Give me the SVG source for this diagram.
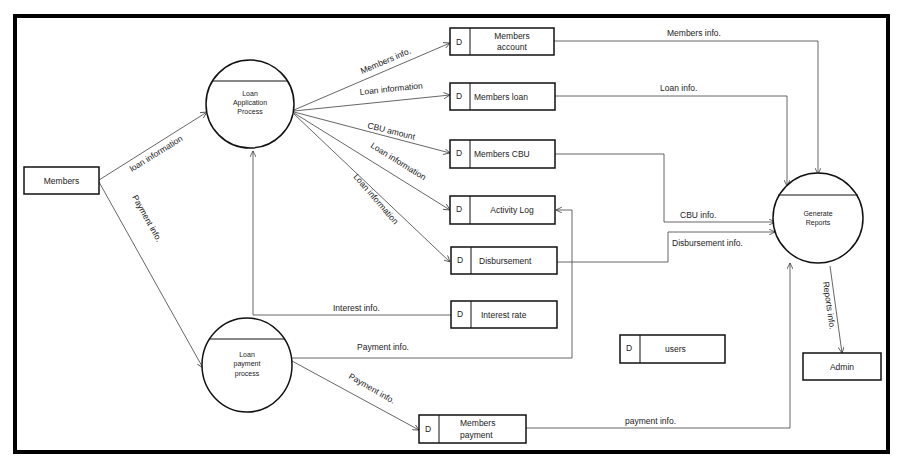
<svg xmlns="http://www.w3.org/2000/svg" width="901" height="466" viewBox="0 0 901 466">
<defs>
<marker id="a" viewBox="0 0 10 10" refX="10" refY="5" markerWidth="7" markerHeight="7" orient="auto-start-reverse"><path d="M0,0 L10,5 L0,10" fill="none" stroke="#333" stroke-width="1.2"/></marker>
<style>
text{font-family:"Liberation Sans",Arial,sans-serif;font-size:8.5px;fill:#222}
.s{font-size:7px}
.n{fill:#fff;stroke:#111;stroke-width:1.5}
.l{fill:none;stroke:#555;stroke-width:0.9;marker-end:url(#a)}
.d{stroke:#111;stroke-width:1}
</style>
</defs>
<rect x="0" y="0" width="901" height="466" fill="#fff"/>
<rect x="15" y="16" width="873" height="436" fill="none" stroke="#000" stroke-width="4"/>
<g id="connectors">
<path class="l" d="M99,180 L207,112"/>
<path class="l" d="M99,182 L203,368"/>
<path class="l" d="M294,110 L450,43"/>
<path class="l" d="M294,111 L450,95"/>
<path class="l" d="M294,112 L450,153"/>
<path class="l" d="M294,113 L450,210"/>
<path class="l" d="M294,114 L450,262"/>
<path class="l" d="M451,315 L253,315 L253,151"/>
<path class="l" d="M292,358 L572,358 L572,210 L556,210"/>
<path class="l" d="M292,361 L419,430"/>
<path class="l" d="M553,41 L818,41 L818,174"/>
<path class="l" d="M555,96 L787,96 L787,186"/>
<path class="l" d="M555,154 L664,154 L664,222 L775,222"/>
<path class="l" d="M557,262 L668,262 L668,232 L775,232"/>
<path class="l" d="M526,428 L790,428 L790,263"/>
<path class="l" d="M830,266 L842,353"/>
<text transform="translate(132,172) rotate(-32)">loan information</text>
<text transform="translate(132,197) rotate(61)">Payment info.</text>
<text transform="translate(362,74) rotate(-23)">Members info.</text>
<text transform="translate(360,95) rotate(-6)">Loan information</text>
<text transform="translate(367,128) rotate(14)">CBU amount</text>
<text transform="translate(370,147) rotate(32)">Loan information</text>
<text transform="translate(353,177) rotate(49)">Loan information</text>
<text x="333" y="311">Interest info.</text>
<text x="357" y="350">Payment info.</text>
<text transform="translate(348,378) rotate(30)">Payment info.</text>
<text x="667" y="36">Members info.</text>
<text x="660" y="91">Loan info.</text>
<text x="680" y="218">CBU info.</text>
<text x="672" y="246">Disbursement info.</text>
<text x="625" y="424">payment info.</text>
<text transform="translate(823,282) rotate(82)">Reports info.</text>
</g>
<g id="members"><rect class="n" x="24" y="167" width="75" height="27"/><text x="61.5" y="184" text-anchor="middle">Members</text></g>
<g id="admin"><rect class="n" x="803" y="353" width="78" height="27"/><text x="842" y="370" text-anchor="middle">Admin</text></g>
<g id="loan-application"><circle class="n" cx="250" cy="104" r="44"/><line class="d" x1="213" y1="81" x2="287" y2="81"/><text class="s" x="250" y="96" text-anchor="middle">Loan</text><text class="s" x="250" y="105" text-anchor="middle">Application</text><text class="s" x="250" y="114" text-anchor="middle">Process</text></g>
<g id="loan-payment"><ellipse class="n" cx="247" cy="365" rx="45" ry="47"/><line class="d" x1="210" y1="339" x2="284" y2="339"/><text class="s" x="247" y="357" text-anchor="middle">Loan</text><text class="s" x="247" y="366" text-anchor="middle">payment</text><text class="s" x="247" y="376" text-anchor="middle">process</text></g>
<g id="generate-reports"><circle class="n" cx="818" cy="218" r="45"/><line class="d" x1="778" y1="195" x2="858" y2="195"/><text class="s" x="818" y="216" text-anchor="middle">Generate</text><text class="s" x="818" y="225" text-anchor="middle">Reports</text></g>
<g id="members-account"><rect class="n" x="450" y="28" width="104" height="27"/><line class="d" x1="470" y1="28" x2="470" y2="55"/><text x="456" y="45" font-size="10">D</text><text x="512" y="39" text-anchor="middle">Members</text><text x="512" y="50" text-anchor="middle">account</text></g>
<g id="members-loan"><rect class="n" x="450" y="83" width="105" height="27"/><line class="d" x1="470" y1="83" x2="470" y2="110"/><text x="456" y="99" font-size="10">D</text><text x="474" y="100">Members loan</text></g>
<g id="members-cbu"><rect class="n" x="450" y="140" width="105" height="28"/><line class="d" x1="470" y1="140" x2="470" y2="168"/><text x="456" y="156" font-size="10">D</text><text x="474" y="157">Members CBU</text></g>
<g id="activity-log"><rect class="n" x="450" y="196" width="105" height="28"/><line class="d" x1="470" y1="196" x2="470" y2="224"/><text x="456" y="212" font-size="10">D</text><text x="512" y="213" text-anchor="middle">Activity Log</text></g>
<g id="disbursement"><rect class="n" x="451" y="247" width="106" height="27"/><line class="d" x1="471" y1="247" x2="471" y2="274"/><text x="457" y="263" font-size="10">D</text><text x="479" y="264">Disbursement</text></g>
<g id="interest-rate"><rect class="n" x="451" y="301" width="106" height="27"/><line class="d" x1="471" y1="301" x2="471" y2="328"/><text x="457" y="317" font-size="10">D</text><text x="481" y="318">Interest rate</text></g>
<g id="users"><rect class="n" x="620" y="335" width="105" height="28"/><line class="d" x1="640" y1="335" x2="640" y2="363"/><text x="626" y="351" font-size="10">D</text><text x="665" y="352">users</text></g>
<g id="members-payment"><rect class="n" x="419" y="415" width="107" height="28"/><line class="d" x1="439" y1="415" x2="439" y2="443"/><text x="425" y="432" font-size="10">D</text><text x="460" y="426">Members</text><text x="460" y="438">payment</text></g>
</svg>
